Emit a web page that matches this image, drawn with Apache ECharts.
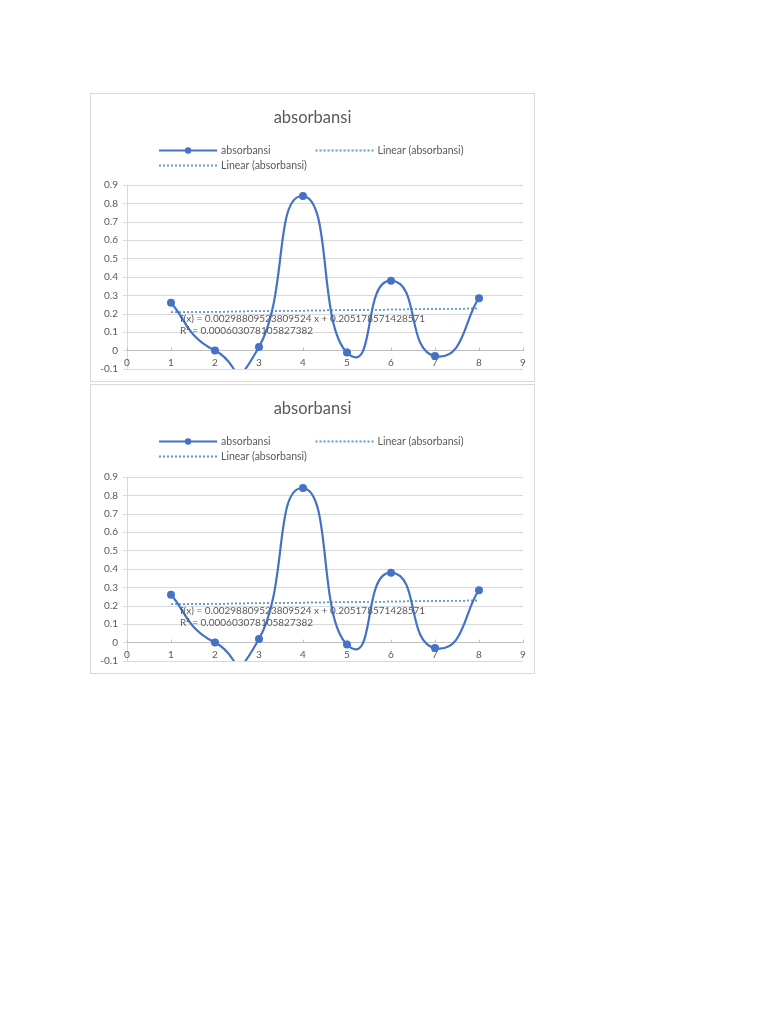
<!DOCTYPE html>
<html>
<head>
<meta charset="utf-8">
<script src="https://cdn.jsdelivr.net/npm/echarts@6/dist/echarts.min.js"></script>
<style>
html,body{margin:0;padding:0;background:#fff;width:768px;height:1024px;overflow:hidden;}
.box{position:absolute;left:90px;width:443px;border:1px solid #d9d9d9;background:#fff;}
#c1{top:93px;height:287px;}
#c2{top:384px;height:288px;}
</style>
</head>
<body>
<div id="c1" class="box"></div>
<div id="c2" class="box"></div>
<script>
var xValues = [1, 2, 3, 4, 5, 6, 7, 8];
var absorbansi = [0.26, 0.0, 0.02, 0.84, -0.01, 0.38, -0.03, 0.285];
var trendX = [1, 8];
var trendY = [0.208, 0.229];
var yTicks = { min: -0.1, max: 0.9, interval: 0.1 };
var xTicks = { min: 0, max: 9, interval: 1 };
var titleText = 'absorbansi';
var seriesNames = ['absorbansi', 'Linear (absorbansi)', 'Linear (absorbansi) '];
var equationText = 'f(x) = 0.00298809523809524 x + 0.205178571428571';
var r2Text = 'R\u00b2 = 0.000603078105827382';

var FONT = 'Lato, "Open Sans", sans-serif';
var TXT = '#595959';
var BLUE = '#4472C4';
var LIGHT = '#5B9BD5';
var TENSION = 0.33;

function pairs(xs, ys) { return xs.map(function (x, i) { return [x, ys[i]]; }); }

function legendBase(top, names) {
  return {
    left: 62, top: top, itemGap: 44, itemWidth: 58, itemHeight: 8,
    textStyle: { fontFamily: FONT, fontSize: 10.5, color: TXT, padding: [0, 0, 0, -1] },
    data: names.map(function (n) {
      return n === seriesNames[0]
        ? { name: n, lineStyle: { color: BLUE, width: 2.2, opacity: 1 } }
        : { name: n, itemStyle: { opacity: 0 } };
    })
  };
}

// smooth segment drawn through the axis scales (api.coord) of the data points
function renderSegment(params, api) {
  var i = params.dataIndex;
  var n = xValues.length;
  if (i >= n - 1) return null;
  var P = function (k) {
    k = Math.max(0, Math.min(n - 1, k));
    return api.coord([xValues[k], absorbansi[k]]);
  };
  var p0 = P(i - 1), p1 = P(i), p2 = P(i + 1), p3 = P(i + 2);
  var c1 = [p1[0] + (p2[0] - p0[0]) * TENSION, p1[1] + (p2[1] - p0[1]) * TENSION];
  var c2 = [p2[0] - (p3[0] - p1[0]) * TENSION, p2[1] - (p3[1] - p1[1]) * TENSION];
  return {
    type: 'bezierCurve',
    shape: { x1: p1[0], y1: p1[1], cpx1: c1[0], cpy1: c1[1], cpx2: c2[0], cpy2: c2[1], x2: p2[0], y2: p2[1] },
    style: { stroke: BLUE, lineWidth: 2.2, fill: null }
  };
}

function build(el, topPad) {
  var chart = echarts.init(el, null, { renderer: 'canvas' });
  var option = {
    animation: false,
    textStyle: { fontFamily: FONT },
    title: {
      text: titleText, left: 'center', top: 10,
      textStyle: { fontFamily: FONT, fontSize: 16.5, fontWeight: 'normal', color: TXT }
    },
    legend: [
      legendBase(46, [seriesNames[0], seriesNames[1]]),
      legendBase(61, [seriesNames[2]])
    ],
    grid: { left: 36, right: 11, top: topPad, bottom: 12, containLabel: false },
    xAxis: {
      type: 'value', min: xTicks.min, max: xTicks.max, interval: xTicks.interval,
      axisLine: { onZero: true, lineStyle: { color: '#bfbfbf', width: 1 } },
      axisTick: { show: true, inside: true, length: 3, lineStyle: { color: '#bfbfbf' } },
      axisLabel: { fontFamily: FONT, fontSize: 10, color: TXT, margin: -11 },
      splitLine: { show: false }
    },
    yAxis: {
      type: 'value', min: yTicks.min, max: yTicks.max, interval: yTicks.interval,
      axisLine: { show: true, lineStyle: { color: '#d9d9d9', width: 1 } },
      axisTick: { show: true, length: 4, lineStyle: { color: '#d9d9d9' } },
      axisLabel: { fontFamily: FONT, fontSize: 10, color: TXT, margin: 9,
        formatter: function (v) { return String(Math.round(v * 10) / 10); } },
      splitLine: { lineStyle: { color: '#d9d9d9', width: 1 } }
    },
    series: [
      {
        name: 'curve', type: 'custom', data: pairs(xValues, absorbansi),
        renderItem: renderSegment, clip: true, z: 3, silent: true
      },
      {
        name: seriesNames[0], type: 'line', data: pairs(xValues, absorbansi),
        symbol: 'circle', symbolSize: 8, clip: true,
        lineStyle: { color: BLUE, width: 2.2, opacity: 0 }, itemStyle: { color: BLUE }, z: 4
      },
      {
        name: seriesNames[1], type: 'line', data: pairs(trendX, trendY),
        symbol: 'none', lineStyle: { color: LIGHT, width: 1.5, type: [2, 2] }, itemStyle: { color: LIGHT }, z: 2
      },
      {
        name: seriesNames[2], type: 'line', data: pairs(trendX, trendY),
        symbol: 'none', lineStyle: { color: LIGHT, width: 1.5, type: [2, 2] }, itemStyle: { color: LIGHT }, z: 2
      }
    ],
    graphic: [
      { type: 'text', left: 89, top: topPad + 129, z: 10,
        style: { text: equationText, fontFamily: FONT, fontSize: 10, fill: TXT } },
      { type: 'text', left: 89, top: topPad + 141, z: 10,
        style: { text: r2Text, fontFamily: FONT, fontSize: 10, fill: TXT } }
    ]
  };
  chart.setOption(option);
  return chart;
}
build(document.getElementById('c1'), 91);
build(document.getElementById('c2'), 92);
</script>
</body>
</html>
